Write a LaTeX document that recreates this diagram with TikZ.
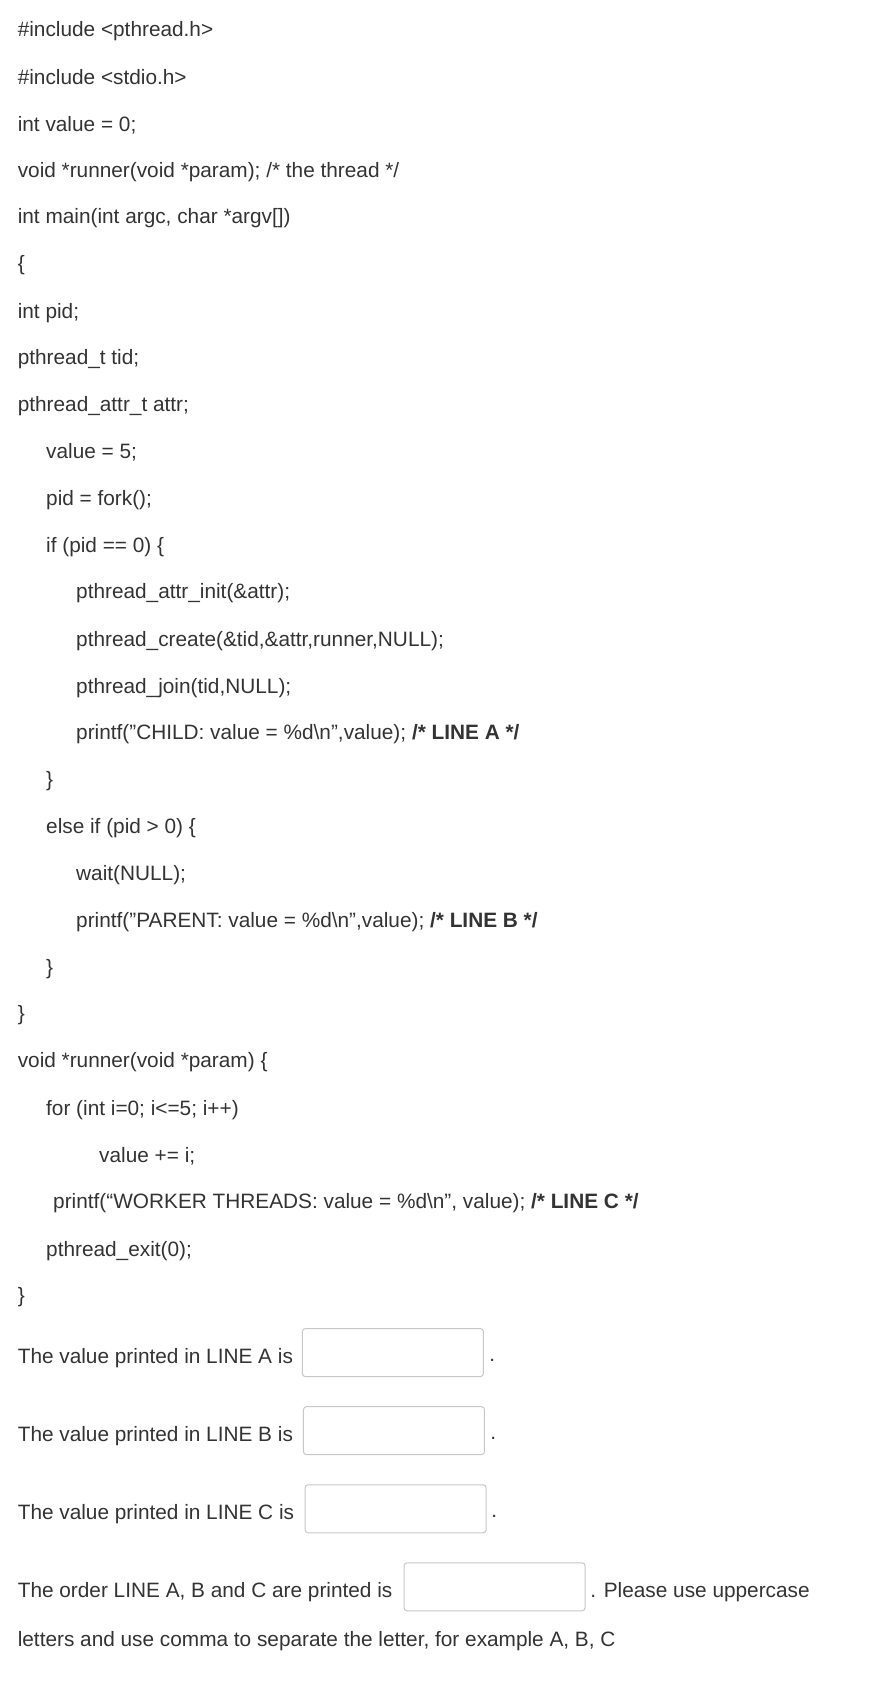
\documentclass[tikz,border=0pt]{standalone}
\usepackage{fontspec}
\setmainfont{Liberation Sans}
\begin{document}
\begin{tikzpicture}[x=1pt,y=-1pt,
  t/.style={anchor=west,inner sep=0pt,text=black!80,font=\fontsize{20.8}{24}\selectfont},
  ans/.style={draw=black!22,rounded corners=3pt,line width=1pt,fill=white,minimum width=181pt,minimum height=48pt,inner sep=0pt}]
\useasboundingbox (0,0) rectangle (879,1702);
\def\Y#1{{#1*1.0844+3.6}}
\def\q{\symbol{34}}
\def\L#1#2#3#4{\node[t] (#1) at (#2,\Y{#3}) {#4};}
\L{l1}{17.6}{25}{\#include <pthread.h>}
\L{l2}{17.6}{68}{\#include <stdio.h>}
\L{l3}{17.6}{112}{int value = 0;}
\L{l4}{17.6}{155}{void *runner(void *param); /* the thread */}
\L{l5}{17.6}{198}{int main(int argc, char *argv[])}
\L{l6}{17.6}{241}{\{}
\L{l7}{17.6}{285}{int pid;}
\L{l8}{17.6}{328}{pthread\_t tid;}
\L{l9}{17.6}{371}{pthread\_attr\_t attr;}
\L{l10}{46}{414}{value = 5;}
\L{l11}{46}{458}{pid = fork();}
\L{l12}{46}{501}{if (pid == 0) \{}
\L{l13}{76}{544}{pthread\_attr\_init(\&attr);}
\L{l14}{76}{588}{pthread\_create(\&tid,\&attr,runner,NULL);}
\L{l15}{76}{631}{pthread\_join(tid,NULL);}
\L{l16}{76}{674}{printf(\q CHILD: value = \%d\textbackslash n\q,value); \textbf{/* LINE A */}}
\L{l17}{46}{717}{\}}
\L{l18}{46}{760}{else if (pid > 0) \{}
\L{l19}{76}{804}{wait(NULL);}
\L{l20}{76}{847}{printf(\q PARENT: value = \%d\textbackslash n\q,value); \textbf{/* LINE B */}}
\L{l21}{46}{890}{\}}
\L{l22}{17.6}{933}{\}}
\L{l23}{17.6}{976}{void *runner(void *param) \{}
\L{l24}{46}{1020}{for (int i=0; i<=5; i++)}
\L{l25}{99}{1063}{value += i;}
\L{l26}{53}{1106}{printf(“WORKER THREADS: value = \%d\textbackslash n”, value); \textbf{/* LINE C */}}
\L{l27}{46}{1150}{pthread\_exit(0);}
\L{l28}{17.6}{1193}{\}}
\L{qa}{17.6}{1249}{The value printed in LINE A is}
\L{qb}{17.6}{1321}{The value printed in LINE B is}
\L{qc}{17.6}{1393}{The value printed in LINE C is}
\L{qd}{17.6}{1465}{The order LINE A, B and C are printed is}
\L{qe}{17.6}{1510}{letters and use comma to separate the letter, for example A, B, C}
\node[ans] (ba) at ({357.5*1.099},\Y{1244}) {};
\node[ans] (bb) at ({358.5*1.099},\Y{1316}) {};
\node[ans] (bc) at ({360*1.099},\Y{1388}) {};
\node[ans] (bd) at ({450*1.099},\Y{1460}) {};
\node[t] (da) at ({445*1.099},\Y{1251}) {.};
\node[t] (db) at ({446*1.099},\Y{1323}) {.};
\node[t] (dc) at ({447*1.099},\Y{1395}) {.};
\node[t] (pd) at ({537*1.099},\Y{1465}) {. Please use uppercase};
\end{tikzpicture}
\end{document}
